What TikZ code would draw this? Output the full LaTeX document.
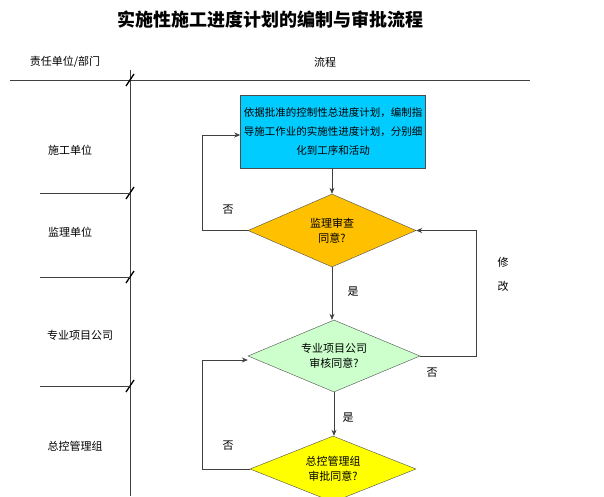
\documentclass[tikz,border=0pt]{standalone}
\usepackage{fontspec}
\setmainfont{Noto Sans CJK SC}
\usetikzlibrary{shapes.geometric,arrows.meta}
\begin{document}
\begin{tikzpicture}[x=1pt,y=-1pt,
  lbl/.style={font=\fontsize{11}{14}\selectfont},
  dia/.style={diamond,draw=black!70,aspect=2.3,minimum width=170pt,minimum height=74pt,inner sep=0pt,align=center,font=\fontsize{11}{15}\selectfont},
  ln/.style={draw=black!75,line width=0.7pt},
  arr/.style={ln,-{Stealth[length=6pt,width=5pt]}},
  tick/.style={line width=1.3pt}]
\useasboundingbox (0,0) rectangle (604,496);
\clip (0,0) rectangle (604,496);
\node[font=\fontsize{18}{20}\selectfont\bfseries] (title) at (270,20) {实施性施工进度计划的编制与审批流程};
\node[lbl] (h1) at (65,62) {责任单位/部门};
\node[lbl] (h2) at (325,62) {流程};
\draw[ln] (10,80) -- (530,80);
\draw[ln] (130,70) -- (130,496);
\foreach \yy in {80,193,277,386}{\draw[tick] (126,\yy+6) -- (134,\yy-6);}
\draw[ln] (40,193) -- (130,193);
\draw[ln] (40,277) -- (130,277);
\draw[ln] (40,386) -- (130,386);
\node[lbl] (r1) at (70,150) {施工单位};
\node[lbl] (r2) at (70,232) {监理单位};
\node[lbl] (r3) at (80,335) {专业项目公司};
\node[lbl] (r4) at (75,446) {总控管理组};
\node[draw=black!70,fill={rgb,255:red,0;green,204;blue,255},minimum width=182pt,minimum height=73pt,align=center,font=\fontsize{10.5}{19}\selectfont] (a) at (333,131.5) {依据批准的控制性总进度计划，编制指\\导施工作业的实施性进度计划，分别细\\化到工序和活动};
\node[dia,fill={rgb,255:red,255;green,192;blue,0},minimum width=168pt,minimum height=73pt] (b) at (332,230.5) {监理审查\\同意?};
\node[dia,fill={rgb,255:red,204;green,255;blue,204},minimum width=172pt,minimum height=72pt] (c) at (334,356) {专业项目公司\\审核同意?};
\node[dia,fill={rgb,255:red,255;green,255;blue,0},minimum width=166pt,minimum height=66pt] (d) at (333,469) {总控管理组\\审批同意?};
\draw[arr] (a.south -| b.north) -- (b.north);
\draw[arr] (b.south) -- (b.south |- c.north);
\draw[arr] (c.south) -- (c.south |- d.north);
\coordinate (p1) at (202,230.5);
\coordinate (p2) at (202,135);
\draw[arr] (b.west) -- (p1) -- (p2) -- (a.west |- p2);
\coordinate (p3) at (476,356);
\coordinate (p4) at (476,230.5);
\draw[arr] (c.east) -- (p3) -- (p4) -- (b.east);
\coordinate (p5) at (202,469);
\coordinate (p6) at (202,360);
\draw[arr] (d.west) -- (p5) -- (p6) -- (c.west |- p6);
\node[lbl] (n1) at (228,210) {否};
\node[lbl] (y1) at (353,292) {是};
\node[lbl,align=center,font=\fontsize{11}{24}\selectfont] (xg) at (503,274) {修\\改};
\node[lbl] (n2) at (432,373) {否};
\node[lbl] (y2) at (348,418) {是};
\node[lbl] (n3) at (228,446) {否};
\end{tikzpicture}
\end{document}
